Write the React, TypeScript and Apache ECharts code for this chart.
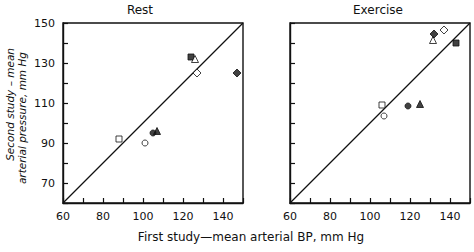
import React, { useEffect, useRef } from "react";
import * as echarts from "echarts";

// Marker per patient
const markers = [
  { symbol: "rect", filled: false },
  { symbol: "circle", filled: false },
  { symbol: "circle", filled: true },
  { symbol: "triangle", filled: true },
  { symbol: "rect", filled: true },
  { symbol: "triangle", filled: false },
  { symbol: "diamond", filled: false },
  { symbol: "diamond", filled: true },
];

// Rest: first study (x) vs second study (y)
const restFirst = [88, 101, 105, 107, 124, 126, 127, 147];
const restSecond = [92, 90, 95, 96, 133, 132, 125, 125];

// Exercise
const exFirst = [106, 107, 119, 125, 143, 131.5, 137, 132];
const exSecond = [109, 103.5, 108.5, 109.5, 140, 141.5, 146.5, 144.5];

const identityLine = [60, 150];

const panelTitles = ["Rest", "Exercise"];
const xTitle = "First study\u2014mean arterial BP, mm Hg";
const yTitleLines = ["Second study \u2013 mean", "arterial pressure, mm Hg"];

const FONT = "DejaVu Sans";
const INK = "#111";

export default function App() {
  const ref = useRef<HTMLDivElement>(null);
  useEffect(() => {
    if (!ref.current) return;
    const chart = echarts.init(ref.current, null, { renderer: "svg" });

    const grids = [
      { left: 63, top: 23, width: 180, height: 180 },
      { left: 290, top: 23, width: 180, height: 180 },
    ];

    const mkX = (gi: number) => ({
      type: "value",
      gridIndex: gi,
      min: 60,
      max: 150,
      interval: 10,
      axisLine: { show: true, onZero: false, lineStyle: { color: INK, width: 1.4 } },
      axisTick: { show: true, inside: true, length: 5, lineStyle: { color: INK, width: 1.2 } },
      splitLine: { show: false },
      axisLabel: {
        color: INK,
        fontFamily: FONT,
        fontSize: 11,
        margin: 8,
        formatter: (v: number) => (v % 20 === 0 ? String(v) : ""),
      },
    });
    const mkY = (gi: number, labels: boolean) => ({
      type: "value",
      gridIndex: gi,
      min: 60,
      max: 150,
      interval: 10,
      axisLine: { show: true, onZero: false, lineStyle: { color: INK, width: 1.4 } },
      axisTick: { show: true, inside: true, length: 5, lineStyle: { color: INK, width: 1.2 } },
      splitLine: { show: false },
      axisLabel: {
        show: labels,
        color: INK,
        fontFamily: FONT,
        fontSize: 11,
        margin: 8,
        formatter: (v: number) => (v % 20 === 10 ? String(v) : ""),
      },
    });

    const scatterSeries = (gi: number, xs: number[], ys: number[]) =>
      markers.map((m, i) => ({
        type: "scatter",
        xAxisIndex: gi,
        yAxisIndex: gi,
        symbol: m.symbol,
        symbolSize: m.symbol === "diamond" ? 8 : m.symbol === "triangle" ? 7 : 6,
        itemStyle: {
          color: m.filled ? INK : "#fff",
          borderColor: INK,
          borderWidth: 1,
        },
        data: [[xs[i], ys[i]]],
        z: 3,
      }));

    const lineSeries = (gi: number) => ({
      type: "line",
      xAxisIndex: gi,
      yAxisIndex: gi,
      showSymbol: false,
      symbol: "none",
      lineStyle: { color: INK, width: 1.3 },
      data: identityLine.map((v) => [v, v]),
      z: 2,
    });

    const txt = (x: number, y: number, text: string, font: string, extra: any = {}) => ({
      type: "text",
      x,
      y,
      ...extra,
      style: {
        text,
        fill: INK,
        font,
        textAlign: extra.align || "center",
        textVerticalAlign: "middle",
      },
    });

    chart.setOption({
      animation: false,
      backgroundColor: "#fff",
      grid: grids.map((g) => ({
        ...g,
        show: true,
        borderColor: INK,
        borderWidth: 1.4,
        backgroundColor: "transparent",
        containLabel: false,
      })),
      xAxis: [mkX(0), mkX(1)],
      yAxis: [mkY(0, true), mkY(1, false)],
      series: [
        lineSeries(0),
        lineSeries(1),
        ...scatterSeries(0, restFirst, restSecond),
        ...scatterSeries(1, exFirst, exSecond),
      ],
      graphic: [
        txt(140, 10, panelTitles[0], `12px "${FONT}"`),
        txt(378, 10, panelTitles[1], `12px "${FONT}"`),
        txt(251, 237, xTitle, `12px "${FONT}"`),
        {
          type: "text",
          x: 10,
          y: 48,
          rotation: Math.PI / 2,
          style: {
            text: yTitleLines[0],
            fill: INK,
            font: `italic 10.5px "${FONT}"`,
            textAlign: "right",
            textVerticalAlign: "middle",
          },
        },
        {
          type: "text",
          x: 22,
          y: 52,
          rotation: Math.PI / 2,
          style: {
            text: yTitleLines[1],
            fill: INK,
            font: `italic 10.5px "${FONT}"`,
            textAlign: "right",
            textVerticalAlign: "middle",
          },
        },
      ],
    });

    return () => chart.dispose();
  }, []);

  return (
    <div
      ref={ref}
      style={{ position: "fixed", left: 0, top: 0, width: 474, height: 252, background: "#fff" }}
    />
  );
}
